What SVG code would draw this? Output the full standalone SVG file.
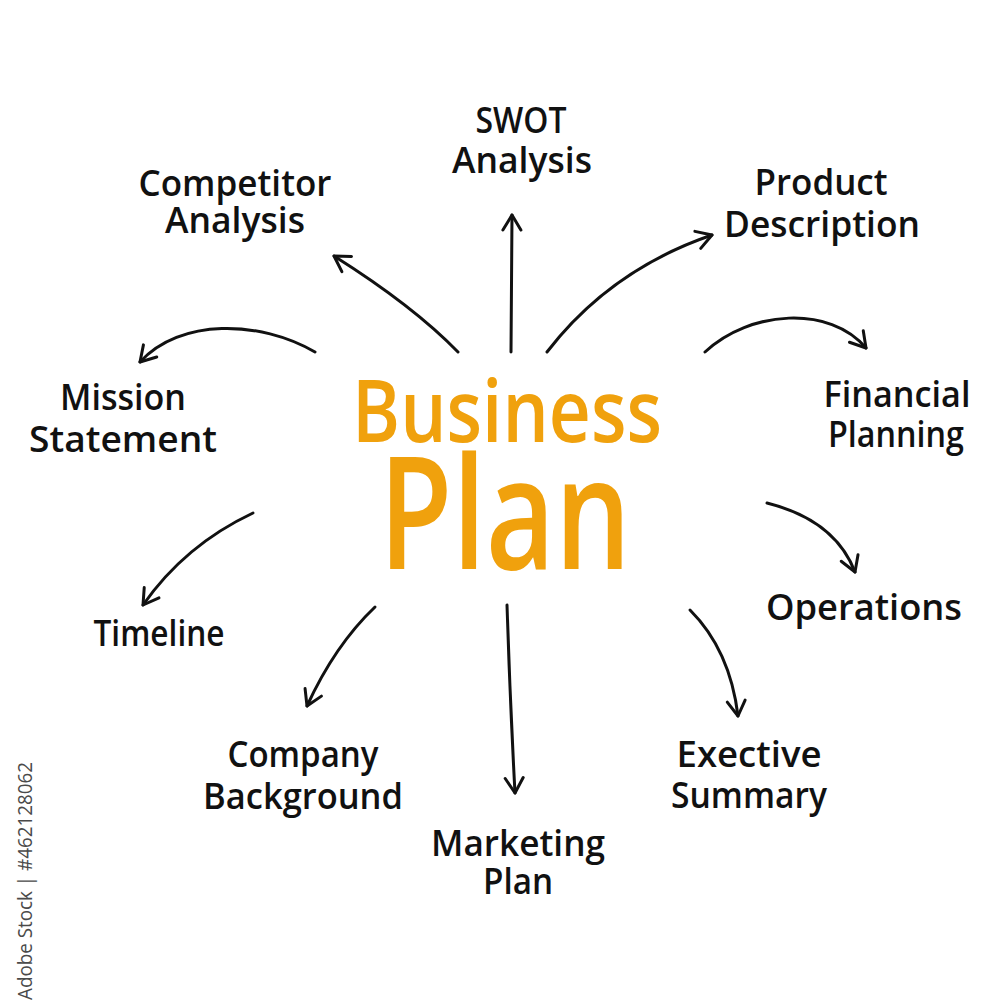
<svg xmlns="http://www.w3.org/2000/svg" width="1000" height="1000" viewBox="0 0 1000 1000">
  <style>
    .lbl { font-family: "Open Sans", "Liberation Sans", sans-serif; font-size: 36px; font-weight: 600; fill: #111; text-anchor: middle; }
    .ttl { font-family: "Open Sans", "Liberation Sans", sans-serif; font-weight: 600; fill: #F0A10D; text-anchor: middle; }
    .con { fill: none; stroke: #111; stroke-width: 3; stroke-linecap: round; marker-end: url(#arr); }
    .wm { font-family: "Open Sans", "Liberation Sans", sans-serif; font-size: 20px; fill: #4a4a4a; }
  </style>
  <defs>
    <marker id="arr" viewBox="-20 -12 24 24" markerWidth="24" markerHeight="24" refX="0" refY="0" orient="auto" markerUnits="userSpaceOnUse">
      <path d="M -15 -9 L 0 0 L -15 9" fill="none" stroke="#111" stroke-width="3" stroke-linecap="round" stroke-linejoin="round"/>
    </marker>
  </defs>
  <rect x="0" y="0" width="1000" height="1000" fill="#ffffff"/>

  <g id="connectors">
    <path class="con" d="M458,352 C425,318 380,285 334,256"/>
    <path class="con" d="M315,352 C260,320 180,318 140,362"/>
    <path class="con" d="M511,352 L512,215"/>
    <path class="con" d="M547,352 Q610,270 712,235"/>
    <path class="con" d="M705,352 C750,310 830,305 866,348"/>
    <path class="con" d="M767,503 Q835,520 855,572"/>
    <path class="con" d="M253,513 Q185,545 143,605"/>
    <path class="con" d="M375,607 Q335,645 307,706"/>
    <path class="con" d="M507,605 Q510,700 515,793"/>
    <path class="con" d="M690,610 Q730,650 738,716"/>
  </g>

  <g id="center">
    <text class="ttl" x="507" y="442" font-size="86" textLength="310" lengthAdjust="spacingAndGlyphs">Business</text>
    <text class="ttl" x="505" y="569" font-size="155" textLength="252" lengthAdjust="spacingAndGlyphs">Plan</text>
  </g>

  <g id="swot">
    <text class="lbl" x="521" y="133" textLength="91" lengthAdjust="spacingAndGlyphs">SWOT</text>
    <text class="lbl" x="522" y="173" textLength="140" lengthAdjust="spacingAndGlyphs">Analysis</text>
  </g>
  <g id="competitor">
    <text class="lbl" x="235" y="196" textLength="193" lengthAdjust="spacingAndGlyphs">Competitor</text>
    <text class="lbl" x="235" y="233" textLength="140" lengthAdjust="spacingAndGlyphs">Analysis</text>
  </g>
  <g id="product">
    <text class="lbl" x="821" y="195" textLength="133" lengthAdjust="spacingAndGlyphs">Product</text>
    <text class="lbl" x="822" y="237" textLength="196" lengthAdjust="spacingAndGlyphs">Description</text>
  </g>
  <g id="mission">
    <text class="lbl" x="123" y="410" textLength="126" lengthAdjust="spacingAndGlyphs">Mission</text>
    <text class="lbl" x="123" y="452" textLength="188" lengthAdjust="spacingAndGlyphs">Statement</text>
  </g>
  <g id="financial">
    <text class="lbl" x="897" y="407" textLength="147" lengthAdjust="spacingAndGlyphs">Financial</text>
    <text class="lbl" x="896" y="447" textLength="136" lengthAdjust="spacingAndGlyphs">Planning</text>
  </g>
  <g id="timeline">
    <text class="lbl" x="159" y="646" textLength="131" lengthAdjust="spacingAndGlyphs">Timeline</text>
  </g>
  <g id="operations">
    <text class="lbl" x="864" y="620" textLength="196" lengthAdjust="spacingAndGlyphs">Operations</text>
  </g>
  <g id="company">
    <text class="lbl" x="303" y="767" textLength="151" lengthAdjust="spacingAndGlyphs">Company</text>
    <text class="lbl" x="303" y="809" textLength="200" lengthAdjust="spacingAndGlyphs">Background</text>
  </g>
  <g id="marketing">
    <text class="lbl" x="518" y="856" textLength="174" lengthAdjust="spacingAndGlyphs">Marketing</text>
    <text class="lbl" x="518" y="894" textLength="70" lengthAdjust="spacingAndGlyphs">Plan</text>
  </g>
  <g id="executive">
    <text class="lbl" x="749" y="767" textLength="145" lengthAdjust="spacingAndGlyphs">Exective</text>
    <text class="lbl" x="749" y="808" textLength="156" lengthAdjust="spacingAndGlyphs">Summary</text>
  </g>

  <text class="wm" transform="translate(32,1000) rotate(-90)" x="0" y="0" textLength="238" lengthAdjust="spacingAndGlyphs">Adobe Stock | #462128062</text>
</svg>
